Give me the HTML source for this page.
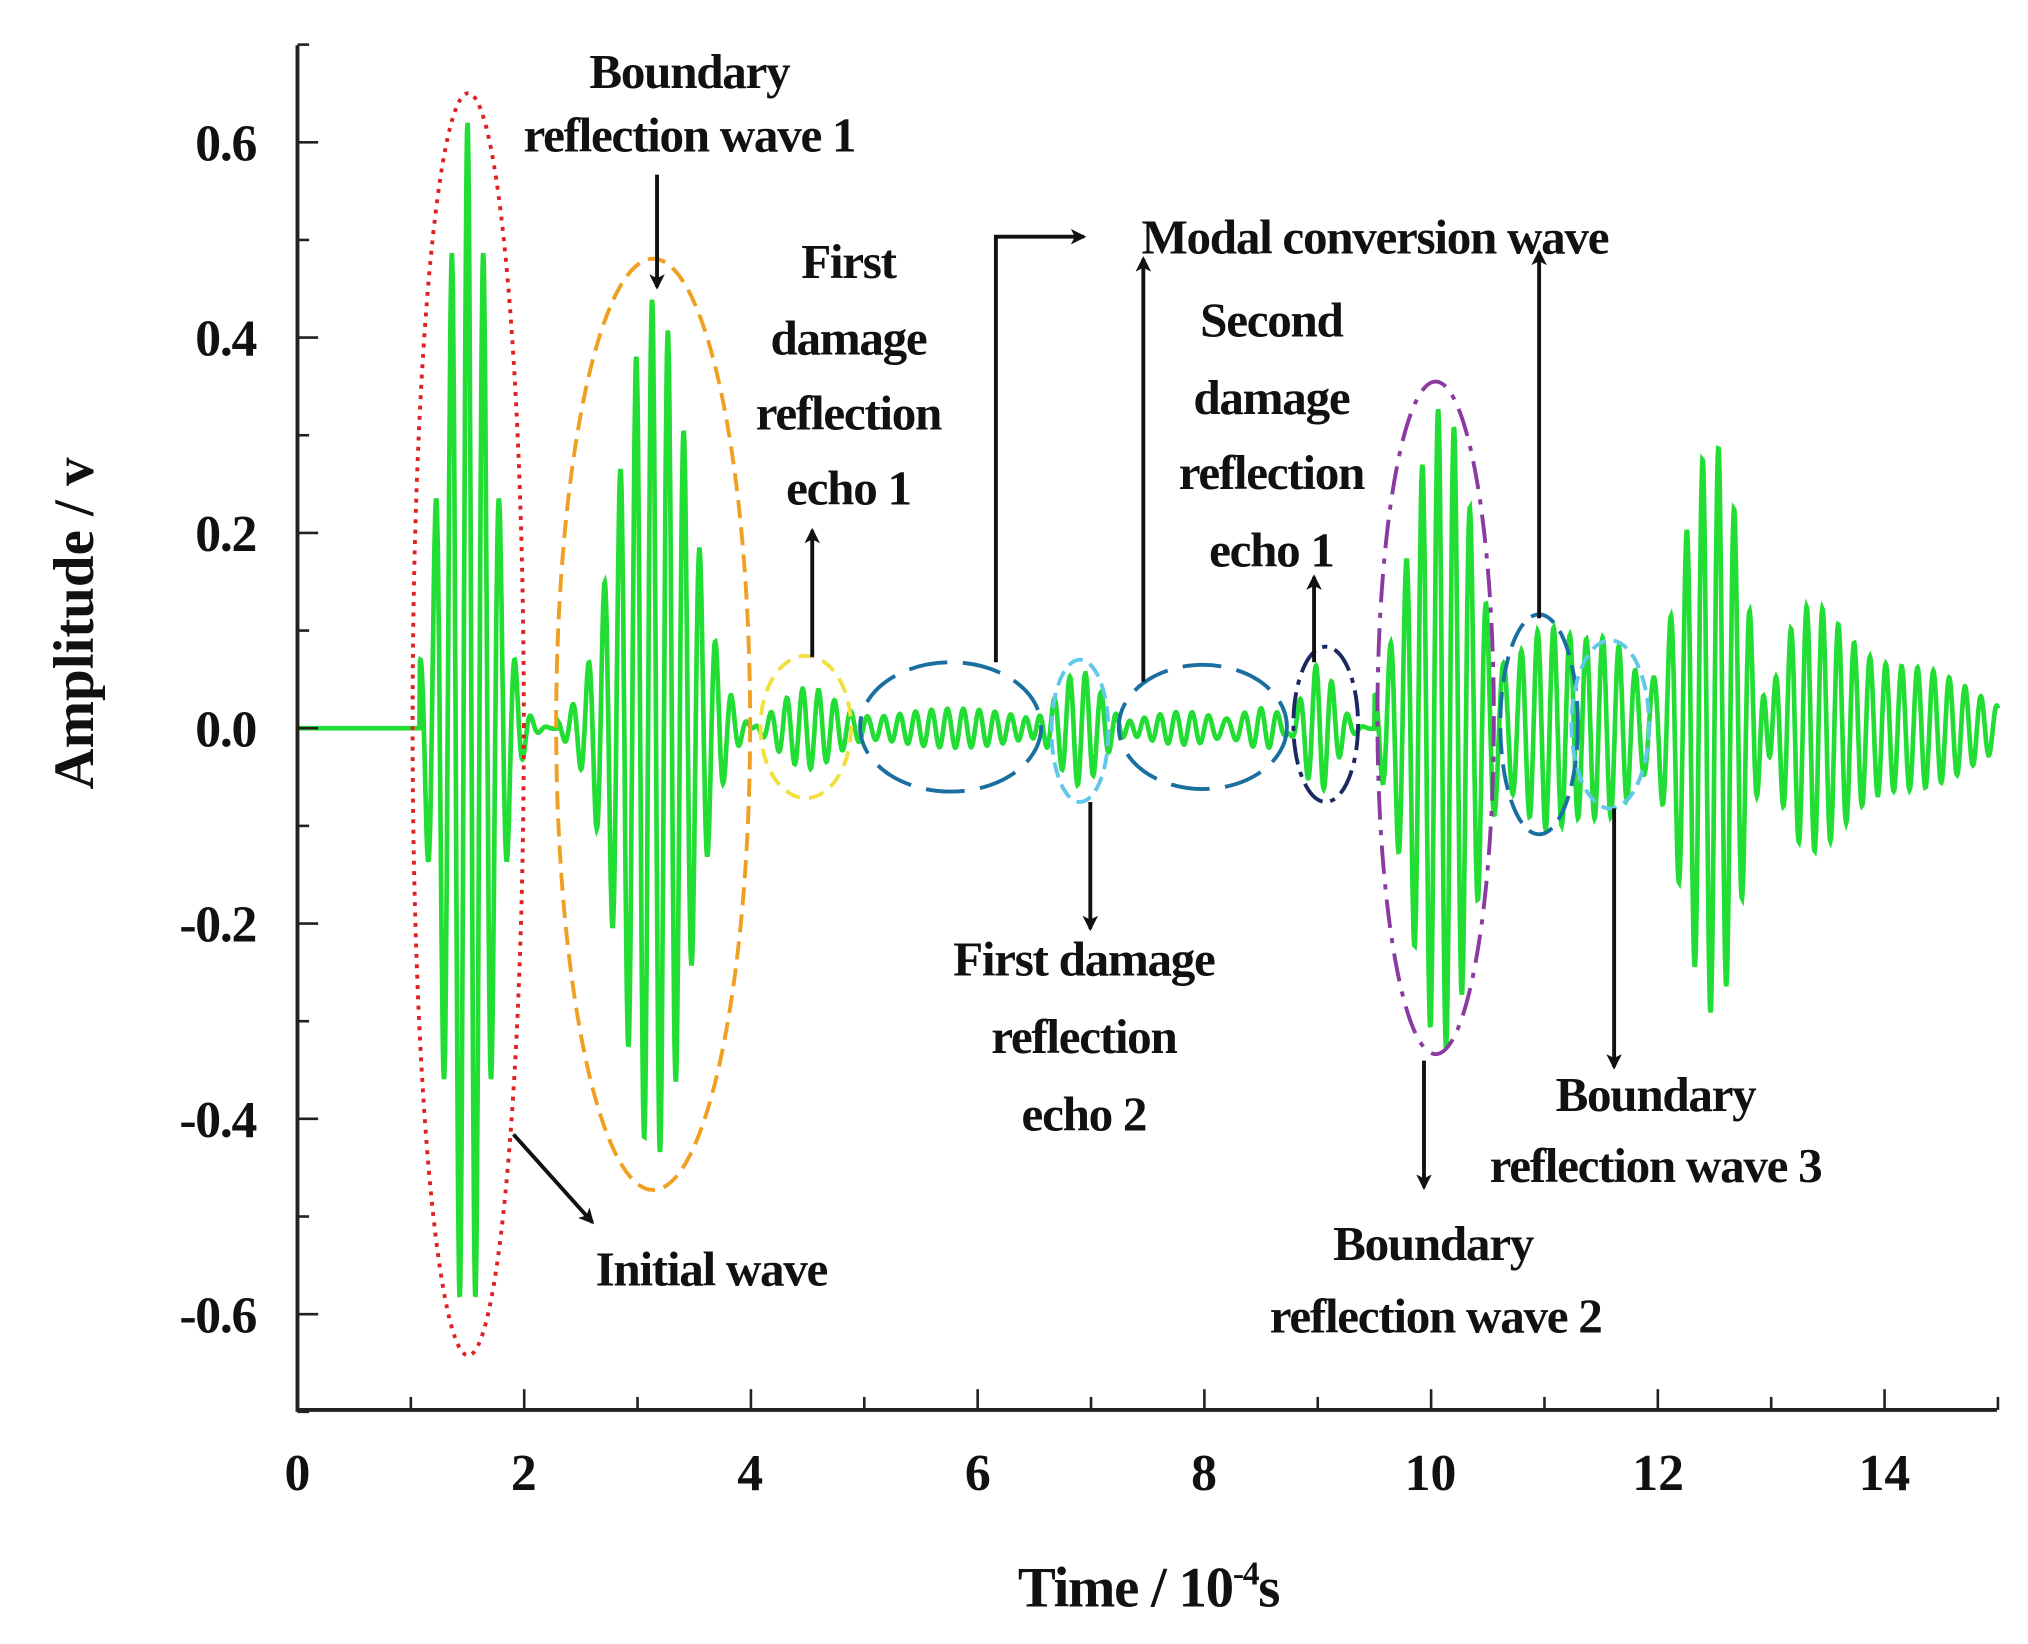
<!DOCTYPE html>
<html><head><meta charset="utf-8"><style>
html,body{margin:0;padding:0;background:#fff;}
svg{display:block;}
text{font-family:"Liberation Serif",serif;font-weight:bold;fill:#111;}
</style></head><body>
<svg id="s" width="2028" height="1644" viewBox="0 0 1568 1271" preserveAspectRatio="none" xmlns="http://www.w3.org/2000/svg">
<defs><marker id="ah" markerWidth="12" markerHeight="12" refX="10" refY="6" orient="auto" markerUnits="userSpaceOnUse"><path d="M0,0 L12,6 L0,12 L3,6 z" fill="#111"/></marker></defs>
<path id="wave" d="" fill="none" stroke="#22dd33" stroke-width="3.6"/>
<g stroke="#222" stroke-width="3" fill="none">
<path d="M230,35 L230,1090 L1544,1090"/>
</g>
<g id="ticks" stroke="#222" stroke-width="2"></g>
<g font-size="40" text-anchor="end" letter-spacing="-1">
<text x="198" y="124">0.6</text><text x="198" y="275">0.4</text><text x="198" y="426">0.2</text><text x="198" y="577">0.0</text><text x="198" y="728">-0.2</text><text x="198" y="879">-0.4</text><text x="198" y="1030">-0.6</text>
</g>
<g font-size="40" text-anchor="middle">
<text x="230" y="1152">0</text><text x="405" y="1152">2</text><text x="580" y="1152">4</text><text x="756" y="1152">6</text><text x="931" y="1152">8</text><text x="1106" y="1152">10</text><text x="1282" y="1152">12</text><text x="1457" y="1152">14</text>
</g>
<text x="888" y="1242" font-size="44" text-anchor="middle" letter-spacing="-1">Time / 10<tspan font-size="26" dy="-17">-4</tspan><tspan dy="17">s</tspan></text>
<text transform="translate(72,482) rotate(-90)" font-size="44" text-anchor="middle">Amplitude / v</text>
<g fill="none" stroke-width="3">
<ellipse cx="362" cy="560" rx="43" ry="488" stroke="#e02020" stroke-dasharray="3,5"/>
<ellipse cx="505" cy="560" rx="75" ry="360" stroke="#f0a020" stroke-dasharray="14,7"/>
<ellipse cx="623" cy="562" rx="35" ry="55" stroke="#f0e040" stroke-dasharray="12,7"/>
<ellipse cx="735" cy="562" rx="70" ry="50" stroke="#1a6fa0" stroke-dasharray="30,12"/>
<ellipse cx="835" cy="565" rx="22" ry="55" stroke="#60c8e8" stroke-dasharray="12,6"/>
<ellipse cx="930" cy="562" rx="65" ry="48" stroke="#1a6fa0" stroke-dasharray="30,12"/>
<ellipse cx="1025" cy="560" rx="25" ry="60" stroke="#1a2a60" stroke-dasharray="20,6,4,6"/>
<ellipse cx="1110" cy="555" rx="45" ry="260" stroke="#8a3aa0" stroke-dasharray="22,8,4,8"/>
<ellipse cx="1190" cy="560" rx="30" ry="85" stroke="#1a6fa0" stroke-dasharray="20,8"/>
<ellipse cx="1245" cy="560" rx="30" ry="65" stroke="#60c8e8" stroke-dasharray="12,6"/>
</g>
<g stroke="#111" stroke-width="3" fill="none" marker-end="url(#ah)">
<path d="M508,135 L508,222"/>
<path d="M397,877 L458,945"/>
<path d="M628,508 L628,410"/>
<path d="M770,512 L770,183 L838,183"/>
<path d="M884,527 L884,200"/>
<path d="M843,620 L843,718"/>
<path d="M1016,512 L1016,446"/>
<path d="M1190,478 L1190,195"/>
<path d="M1101,820 L1101,918"/>
<path d="M1248,625 L1248,825"/>
</g>
<g font-size="38" text-anchor="middle" letter-spacing="-1">
<text x="533" y="68">Boundary</text><text x="533" y="117">reflection wave 1</text>
<text x="656" y="215">First</text><text x="656" y="274">damage</text><text x="656" y="332">reflection</text><text x="656" y="390">echo 1</text>
<text x="1063" y="196">Modal conversion wave</text>
<text x="983" y="260">Second</text><text x="983" y="320">damage</text><text x="983" y="378">reflection</text><text x="983" y="438">echo 1</text>
<text x="838" y="754">First damage</text><text x="838" y="814">reflection</text><text x="838" y="874">echo 2</text>
<text x="550" y="994">Initial wave</text>
<text x="1280" y="859">Boundary</text><text x="1280" y="914">reflection wave 3</text>
<text x="1108" y="974">Boundary</text><text x="1110" y="1030">reflection wave 2</text>
</g>
</svg>
<script>
(function(){
var ns="http://www.w3.org/2000/svg",t=document.getElementById("ticks");
function L(x1,y1,x2,y2){var l=document.createElementNS(ns,"line");l.setAttribute("x1",x1);l.setAttribute("y1",y1);l.setAttribute("x2",x2);l.setAttribute("y2",y2);t.appendChild(l);}
for(var i=0;i<=15;i++){var x=230+i*87.65;L(x,1090,x,i%2?1080:1074);}
for(var v=-0.7;v<=0.701;v+=0.1){var y=563-v*755;var m=Math.round(v*10)%2==0;L(230,y,m?246:239,y);}
var P=[[1.5,0.62,0.2,1.08],[3.15,0.44,0.3,2.3],[4.5,0.04,0.25,0],[5.8,0.02,0.6,0],[6.9,0.06,0.2,0],[8.0,0.02,0.5,0],[8.5,0.03,0.3,0],[9.0,0.07,0.15,0],[10.1,0.33,0.28,9.5],[11.0,0.1,0.3,0],[11.6,0.08,0.25,0],[12.5,0.3,0.28,0],[13.3,0.12,0.35,0],[14.3,0.06,0.5,0]];
var d="M230,563",per=0.14;
for(var k=0;k<=4000;k++){var x=k*15/4000,a=0;
for(var j=0;j<P.length;j++){var p=P[j];if(p[3]&&x<p[3])continue;var g=Math.exp(-Math.pow((x-p[0])/p[2],2)/2);a+=p[1]*g*Math.sin(2*Math.PI*(x-p[0])/per+Math.PI/2+j);}
if(x<1.05)a=0;
d+=" L"+(230+x*87.65).toFixed(1)+","+(563-a*755).toFixed(1);}
document.getElementById("wave").setAttribute("d",d);
})();
</script>
</body></html>
